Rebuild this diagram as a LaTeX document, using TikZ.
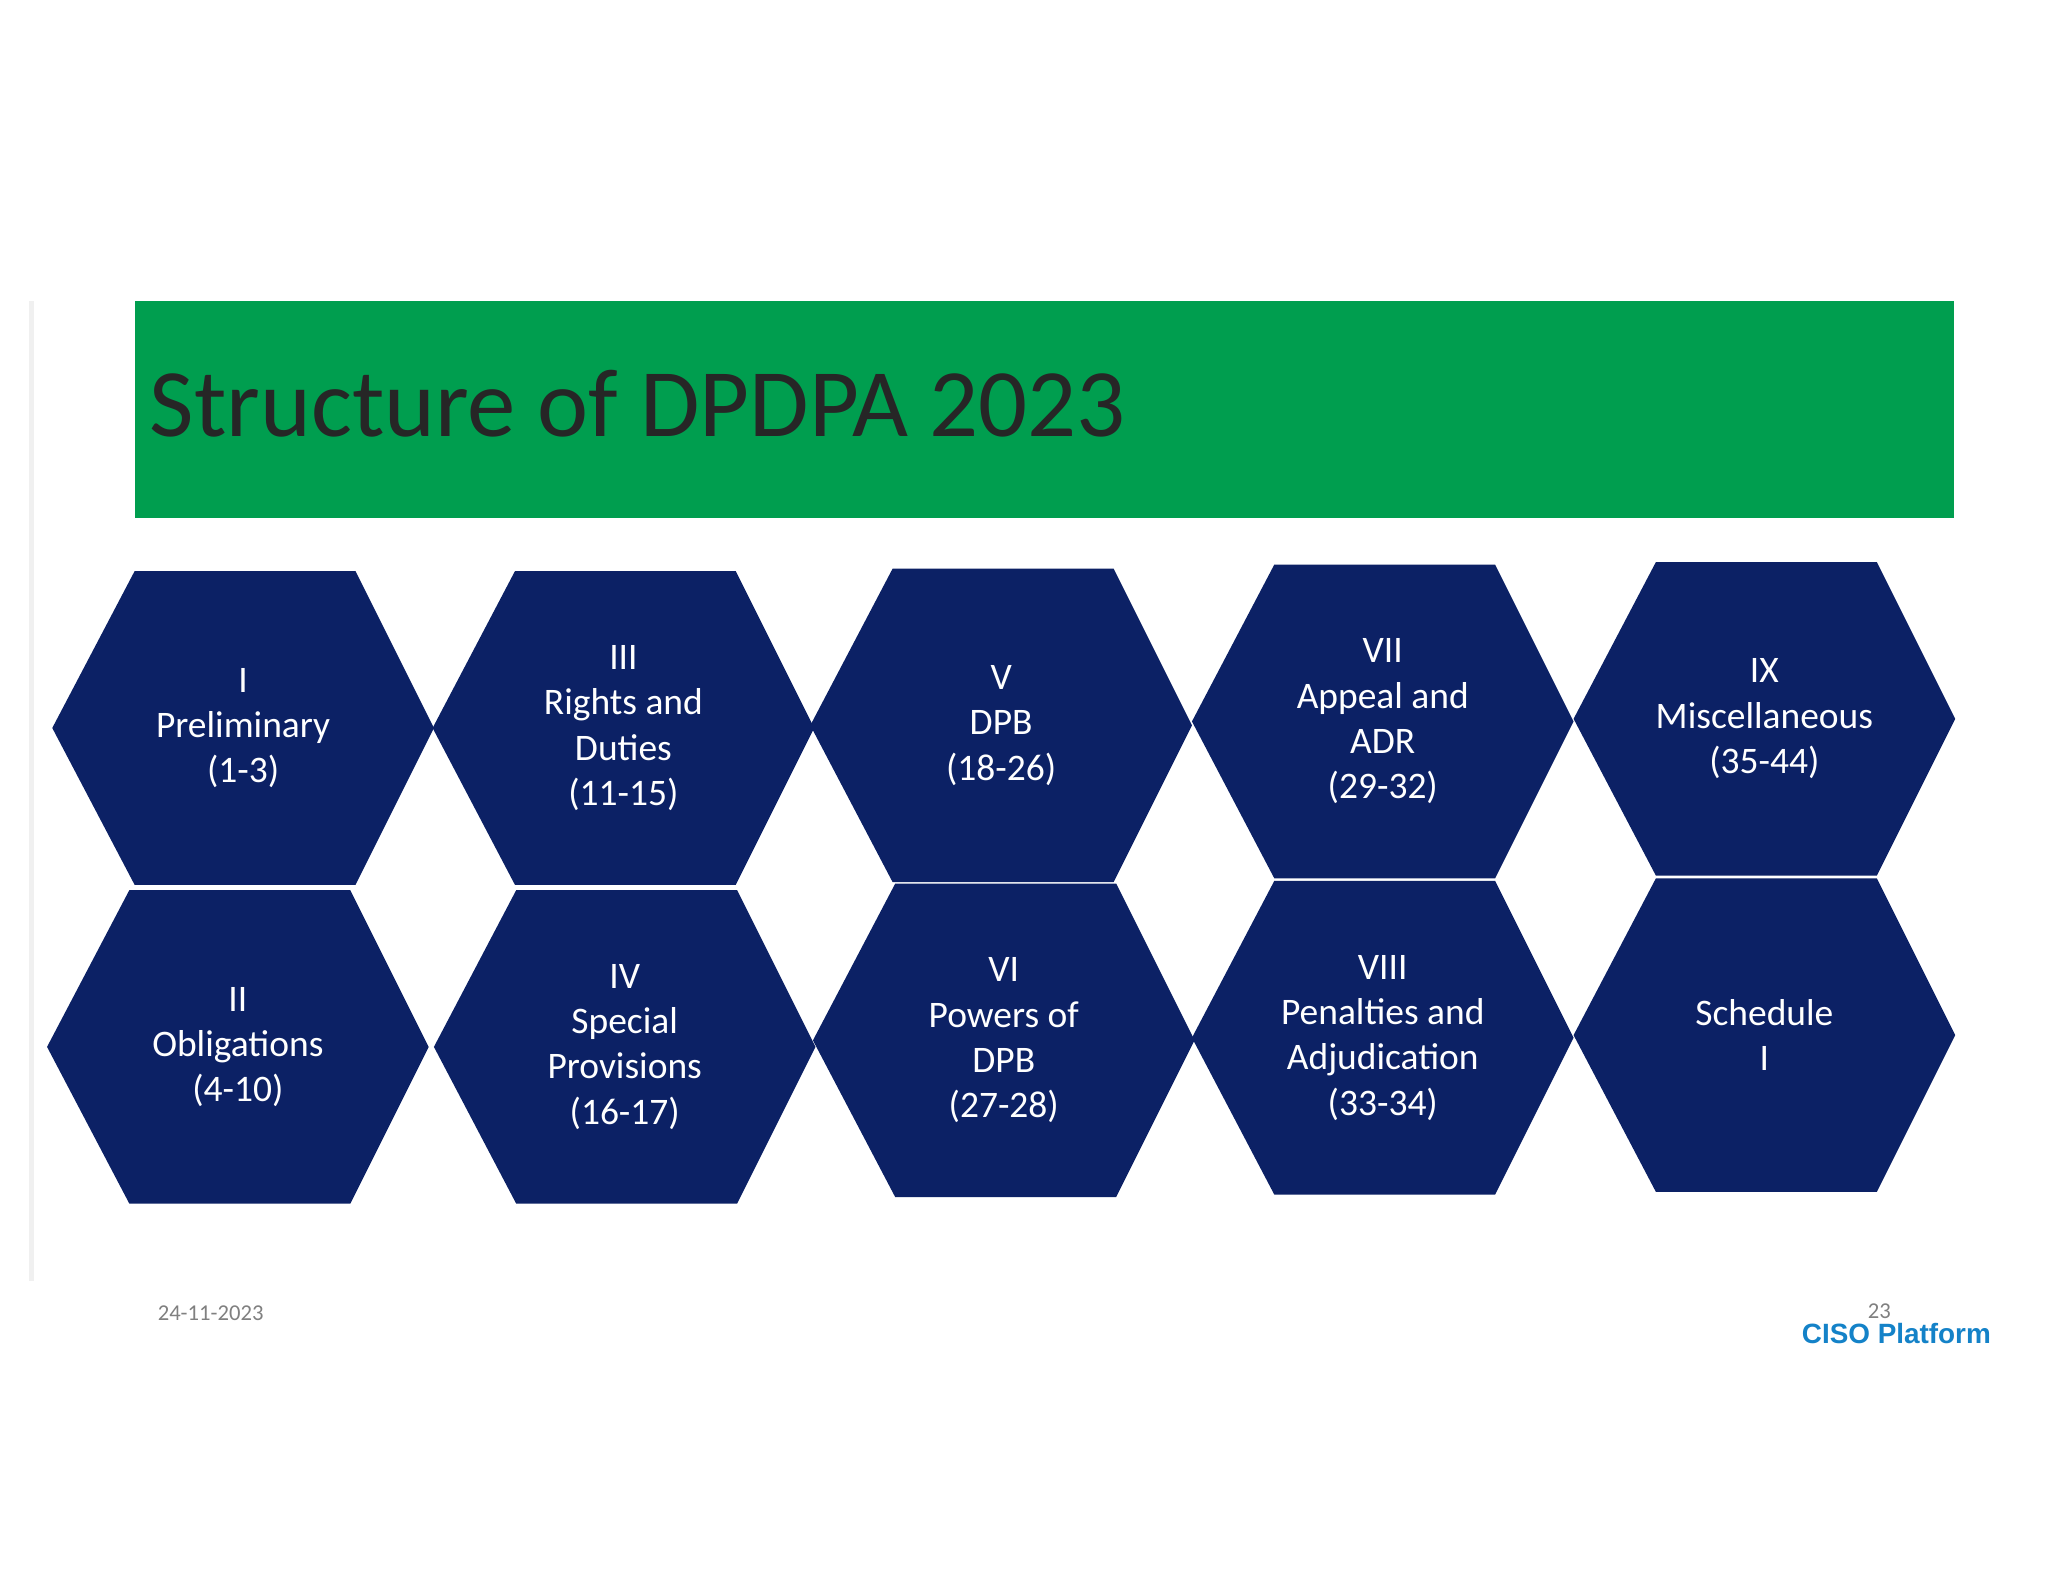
\documentclass[tikz,border=0pt]{standalone}
\usepackage{fontspec}
\setmainfont{Carlito}
\newfontfamily\arialf{Liberation Sans}
\definecolor{navy}{RGB}{12,33,101}
\definecolor{ggreen}{RGB}{0,158,79}
\definecolor{cisob}{RGB}{20,130,200}
\begin{document}
\begin{tikzpicture}[x=0.75pt,y=-0.75pt,
  hextxt/.style={text=white,align=center,font=\fontsize{21.5}{26}\selectfont}]
\useasboundingbox (0,0) rectangle (1567,1211);
\fill[white] (0,0) rectangle (1567,1211);
\fill[gray!12] (22,230) rectangle (26,980);
\fill[ggreen] (103,230) rectangle (1495,396);
\node[anchor=west,font=\fontsize{55.5}{66}\selectfont,text=black!85] (title) at (110,309) {Structure of DPDPA 2023};
\newcommand{\hexa}[4]{%
  \fill[navy] (#1-146,#2) -- (#1-83,#2-120) -- (#1+86,#2-120) -- (#1+146,#2) -- (#1+86,#2+120) -- (#1-83,#2+120) -- cycle;
  \node[hextxt] (#3) at (#1,#2) {#4};}
\hexa{186}{557}{h1}{I\\Preliminary\\(1-3)}
\hexa{477}{557}{h3}{III\\Rights and\\Duties\\(11-15)}
\hexa{766}{555}{h5}{V\\DPB\\(18-26)}
\hexa{1058}{552}{h7}{VII\\Appeal and\\ADR\\(29-32)}
\hexa{1350}{550}{h9}{IX\\Miscellaneous\\(35-44)}
\hexa{182}{801}{h2}{II\\Obligations\\(4-10)}
\hexa{478}{801}{h4}{IV\\Special\\Provisions\\(16-17)}
\hexa{768}{796}{h6}{VI\\Powers of\\DPB\\(27-28)}
\hexa{1058}{794}{h8}{VIII\\Penalties and\\Adjudication\\(33-34)}
\hexa{1350}{792}{h10}{Schedule\\I}
\node[anchor=west,text=gray,font=\fontsize{13}{15}\selectfont] (date) at (116,1005) {24-11-2023};
\node[text=gray,font=\fontsize{13}{15}\selectfont] (pg) at (1438,1003) {23};
\node[anchor=east,text=cisob,font=\arialf\bfseries\fontsize{16}{19}\selectfont] (ciso) at (1528,1020) {CISO Platform};
\end{tikzpicture}
\end{document}
